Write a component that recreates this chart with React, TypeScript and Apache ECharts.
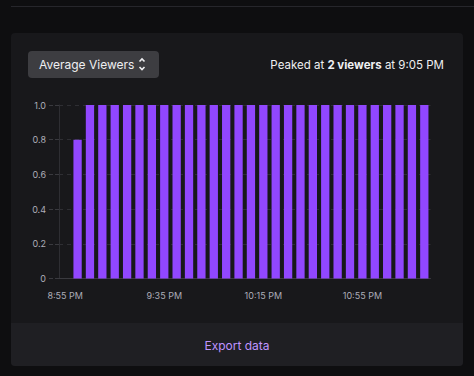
import React, { useEffect, useRef } from "react";
import * as echarts from "echarts";

const categories = [
  "8:55 PM", "9:00 PM", "9:05 PM", "9:10 PM", "9:15 PM", "9:20 PM", "9:25 PM", "9:30 PM",
  "9:35 PM", "9:40 PM", "9:45 PM", "9:50 PM", "9:55 PM", "10:00 PM", "10:05 PM", "10:10 PM",
  "10:15 PM", "10:20 PM", "10:25 PM", "10:30 PM", "10:35 PM", "10:40 PM", "10:45 PM", "10:50 PM",
  "10:55 PM", "11:00 PM", "11:05 PM", "11:10 PM", "11:15 PM", "11:20 PM",
];
const averageViewers = [
  null, 0.8, 1, 1, 1, 1, 1, 1,
  1, 1, 1, 1, 1, 1, 1, 1,
  1, 1, 1, 1, 1, 1, 1, 1,
  1, 1, 1, 1, 1, 1,
];
const yTicks = [0, 0.2, 0.4, 0.6, 0.8, 1.0];
const title = "Average Viewers";
const peakViewers = 2;
const peakTime = "9:05 PM";
const footerText = "Export data";

const FONT = "Inter, 'Noto Sans', sans-serif";

export default function App() {
  const ref = useRef<HTMLDivElement>(null);
  useEffect(() => {
    if (!ref.current) return;
    const chart = echarts.init(ref.current, undefined, { renderer: "svg" });
    chart.setOption({
      animation: false,
      backgroundColor: "#0e0e10",
      textStyle: { fontFamily: FONT },
      graphic: [
        { type: "line", z: -10, shape: { x1: 11, y1: 6.5, x2: 474, y2: 6.5 }, style: { stroke: "#26262b", lineWidth: 1 } },
        { type: "rect", z: -10, shape: { x: 11, y: 33, width: 452, height: 333, r: 4 }, style: { fill: "#18181b" } },
        { type: "rect", z: -9, shape: { x: 11, y: 323, width: 452, height: 43, r: [0, 0, 4, 4] }, style: { fill: "#1f1f23" } },
        { type: "rect", z: -8, shape: { x: 28, y: 51, width: 131, height: 27, r: 4 }, style: { fill: "#3d3d41" } },
        {
          type: "text", x: 39, y: 64.5,
          style: { text: title, fill: "#efeff1", font: `12px ${FONT}`, verticalAlign: "middle", align: "left" },
        },
        { type: "polyline", shape: { points: [[139.5, 61.5], [142, 59], [144.5, 61.5]] }, style: { stroke: "#efeff1", lineWidth: 1.6, fill: "none" } },
        { type: "polyline", shape: { points: [[139.5, 67], [142, 69.5], [144.5, 67]] }, style: { stroke: "#efeff1", lineWidth: 1.6, fill: "none" } },
        {
          type: "text", x: 444, y: 64.5,
          style: {
            text: `Peaked at {b|${peakViewers} viewers} at ${peakTime}`,
            rich: { b: { fontWeight: "bold", fill: "#efeff1", fontSize: 11.5, fontFamily: FONT } },
            fill: "#efeff1", font: `11.5px ${FONT}`, verticalAlign: "middle", align: "right",
          },
        },
        {
          type: "text", x: 237, y: 345,
          style: { text: footerText, fill: "#bf94ff", font: `12px ${FONT}`, verticalAlign: "middle", align: "center" },
        },
      ],
      grid: { left: 59, right: 43.5, top: 105, bottom: 97.5, containLabel: false },
      xAxis: {
        type: "category",
        data: categories,
        boundaryGap: true,
        axisLine: { show: true, lineStyle: { color: "#3a3a3f", width: 1 } },
        axisTick: { show: false },
        axisLabel: { interval: 7, color: "#adadb8", fontSize: 9, margin: 12, fontFamily: FONT },
        splitLine: { show: false },
      },
      yAxis: {
        type: "value",
        min: 0,
        max: 1,
        interval: 0.2,
        axisLine: { show: true, lineStyle: { color: "#2e2e33", width: 1 } },
        axisTick: { show: true, length: 10, lineStyle: { color: "#3a3a3f", type: "dashed" } },
        axisLabel: {
          color: "#adadb8", fontSize: 9, margin: 13, fontFamily: FONT,
          formatter: (v: number) => {
            const t = yTicks.find((x) => Math.abs(x - v) < 1e-9);
            return t === 0 ? "0" : (t ?? v).toFixed(1);
          },
        },
        splitLine: { show: true, lineStyle: { color: "#2e2e33", type: [4, 4] } },
      },
      series: [
        {
          type: "bar",
          data: averageViewers,
          barCategoryGap: "33%",
          itemStyle: { color: "#9147ff" },
        },
      ],
    });
    return () => chart.dispose();
  }, []);
  return (
    <div
      ref={ref}
      style={{ position: "fixed", left: 0, top: 0, width: 474, height: 376 }}
    />
  );
}
